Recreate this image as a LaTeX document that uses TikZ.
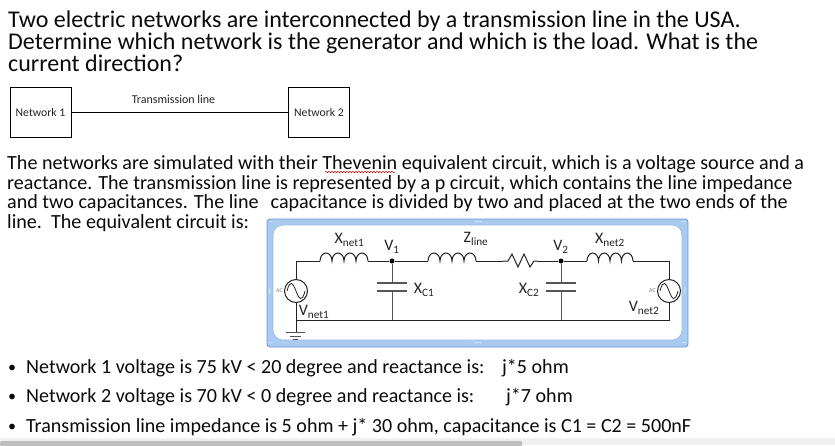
\documentclass[tikz,border=0pt]{standalone}
\usepackage{fontspec}
\setmainfont{Carlito}
\usetikzlibrary{decorations.pathmorphing}
\definecolor{wirecol}{RGB}{35,35,35}
\definecolor{capgrey}{RGB}{85,85,85}
\definecolor{frameblue}{RGB}{170,203,240}
\definecolor{frameedge}{RGB}{105,150,220}
\definecolor{txt}{RGB}{10,10,10}
\definecolor{barlight}{RGB}{240,240,240}
\definecolor{bardark}{RGB}{190,190,190}
\tikzset{
  x=1pt,y=-1pt,
  head/.style={anchor=base west,inner sep=0,font=\fontsize{24}{24}\selectfont,text=txt},
  para/.style={anchor=base west,inner sep=0,font=\fontsize{20.1}{20}\selectfont,text=txt},
  bullet/.style={anchor=base west,inner sep=0,font=\fontsize{20.05}{20}\selectfont,text=txt},
  netbox/.style={draw=black,line width=1pt,minimum width=61pt,minimum height=50pt,inner sep=0,font=\fontsize{11.7}{12}\selectfont,text=wirecol},
  lab/.style={inner sep=0,font=\fontsize{16}{16}\selectfont,text=wirecol},
  small/.style={inner sep=0,font=\fontsize{12}{12}\selectfont,text=wirecol},
  wire/.style={draw=wirecol,line width=1pt},
  plate/.style={draw=capgrey,line width=1.2pt},
  src/.style={circle,draw=wirecol,line width=1pt,minimum size=23pt,inner sep=0,fill=white},
  aclab/.style={inner sep=0,font=\fontsize{6}{6}\selectfont,text=gray},
  handle/.style={inner sep=0,font=\fontsize{7}{7}\selectfont\bfseries,text=white},
}
\newcommand{\coilpath}[2]{% #1 start, #2 half width of one bump
  (#1) arc[start angle=180,end angle=360,x radius=#2,y radius=8] arc[start angle=180,end angle=360,x radius=#2,y radius=8] arc[start angle=180,end angle=360,x radius=#2,y radius=8] arc[start angle=180,end angle=360,x radius=#2,y radius=8]}
\begin{document}
\begin{tikzpicture}
\useasboundingbox (0,0) rectangle (835,445);
\fill[white] (0,0) rectangle (835,445);

% headline
\node[head] (h1) at (8,27) {Two electric networks are interconnected by a transmission line in the USA.};
\node[head] (h2) at (8,49) {Determine which network is the generator and which is the load. What is the};
\node[head] (h3) at (8,71) {current direction?};

% block diagram
\node[netbox] (n1) at (40.5,112) {Network 1};
\node[netbox] (n2) at (319,112) {Network 2};
\draw[wire,draw=black] (n1) -- (n2);
\node[small] (tl) at (173.5,99) {Transmission line};

% paragraph
\node[para] (p1) at (7,169) {The networks are simulated with their Thevenin equivalent circuit, which is a voltage source and a};
\node[para] (p2) at (7,189) {reactance. The transmission line is represented by a p circuit, which contains the line impedance};
\node[para] (p3) at (7,208) {and two capacitances. The line\ \ \hspace{3pt}capacitance is divided by two and placed at the two ends of the};
\node[para] (p4) at (7,228) {line.\ \ The equivalent circuit is:};
\draw[red!80!black,line width=0.5pt,decorate,decoration={snake,amplitude=0.7pt,segment length=3pt}] (325,172) -- (395,172);

% frame
\draw[draw=frameedge,fill=frameblue,line width=0.8pt,rounded corners=3pt] (267,219) rectangle (688,347);
\draw[draw=frameedge!70,fill=white,line width=0.6pt,rounded corners=10pt] (273,225) rectangle (682,340);
\foreach \p in {(478,222),(478,343.5)} \node[handle] at \p {....};
\foreach \p in {(270,291),(685,291)} \node[handle,rotate=90] at \p {....};
\foreach \p in {(271,222),(684,222),(271,343.5),(684,343.5)} \node[handle] at \p {..};

% circuit
\coordinate (gndtop) at (296,320);
\coordinate (gnd) at (296,332);
\coordinate (tl1) at (296,261);
\coordinate (l1a) at (320,261);
\coordinate (l1b) at (368,261);
\node[circle,fill=black,inner sep=0,minimum size=5pt] (v1) at (392,261) {};
\coordinate (l2a) at (428,261);
\coordinate (l2b) at (476,261);
\coordinate (ra) at (503,261);
\coordinate (rb) at (537,261);
\node[circle,fill=black,inner sep=0,minimum size=5pt] (v2) at (561,261) {};
\coordinate (l3a) at (587,261);
\coordinate (l3b) at (633,261);
\coordinate (tr) at (669,261);
\coordinate (br) at (669,320);
\node[src] (s1) at (296,291) {};
\node[src] (s2) at (669,291) {};
\coordinate (c1t) at (392,283);
\coordinate (c1b) at (392,291);
\coordinate (c1g) at (392,320);
\coordinate (c2t) at (561,283);
\coordinate (c2b) at (561,291);
\coordinate (c2g) at (561,320);

\draw[wire] (s1) -- (tl1) -- (l1a);
\draw[wire] (l1b) -- (v1) -- (l2a);
\draw[wire] (l2b) -- (ra);
\draw[wire] (rb) -- (v2) -- (l3a);
\draw[wire] (l3b) -- (tr) -- (s2);
\draw[wire] (s2) -- (br) -- (gndtop) -- (s1);
\draw[wire] (gndtop) -- (gnd);
\draw[wire] \coilpath{l1a}{6};
\draw[wire] \coilpath{l2a}{6};
\draw[wire] \coilpath{l3a}{5.75};
\draw[wire] (ra) -- ++(5,0) -- ++(4,-7) -- ++(6,13) -- ++(6,-13) -- ++(6,13) -- ++(4,-6) -- (rb);
\draw[wire,draw=capgrey] (v1) -- (c1t);
\draw[wire,draw=capgrey] (c1b) -- (c1g);
\draw[wire,draw=capgrey] (v2) -- (c2t);
\draw[wire,draw=capgrey] (c2b) -- (c2g);
\draw[plate] (377,283) -- (407,283);
\draw[plate] (377,291) -- (407,291);
\draw[plate] (546,283) -- (576,283);
\draw[plate] (546,291) -- (576,291);
\draw[plate] (286,332.5) -- (305,332.5);
\draw[plate] (290,336.5) -- (301,336.5);
\draw[plate,line width=1.4pt] (293,339.5) -- (298,339.5);
% sine waves in the sources
\draw[wire,line width=0.8pt] (287,291) .. controls (290,279) and (293,283) .. (296,291) .. controls (299,299) and (302,303) .. (305,291);
\draw[wire,line width=0.8pt] (660,291) .. controls (663,279) and (666,283) .. (669,291) .. controls (672,299) and (675,303) .. (678,291);
\node[aclab] (ac1) at (279.5,291) {AC};
\node[aclab] (ac2) at (652.5,291) {AC};

% labels
\node[lab] (xn1) at (349.5,240) {X\textsubscript{net1}};
\node[lab] (lv1) at (392,247) {V\textsubscript{1}};
\node[lab] (zl) at (476,239) {Z\textsubscript{line}};
\node[lab] (lv2) at (561,247) {V\textsubscript{2}};
\node[lab] (xn2) at (610,240) {X\textsubscript{net2}};
\node[lab] (xc1) at (424,290) {X\textsubscript{C1}};
\node[lab] (xc2) at (529,290) {X\textsubscript{C2}};
\node[lab] (vn1) at (314,312) {V\textsubscript{net1}};
\node[lab] (vn2) at (644,308) {V\textsubscript{net2}};

% bullets
\node[bullet,font=\fontsize{16}{16}\selectfont] (b1) at (8,372) {•};
\node[bullet] (t1) at (26,373) {Network 1 voltage is 75 kV < 20 degree and reactance is:};
\node[bullet] (t1b) at (502,373) {j*5 ohm};
\node[bullet,font=\fontsize{16}{16}\selectfont] (b2) at (8,401) {•};
\node[bullet] (t2) at (26,402) {Network 2 voltage is 70 kV < 0 degree and reactance is:};
\node[bullet] (t2b) at (506,402) {j*7 ohm};
\node[bullet,font=\fontsize{16}{16}\selectfont] (b3) at (8,431) {•};
\node[bullet] (t3) at (26,432) {Transmission line impedance is 5 ohm + j* 30 ohm, capacitance is C1 = C2 = 500nF};

% scrollbar
\fill[barlight] (0,438) rectangle (835,445);
\fill[bardark,rounded corners=2pt] (0,441) rectangle (522,447);
\end{tikzpicture}
\end{document}
